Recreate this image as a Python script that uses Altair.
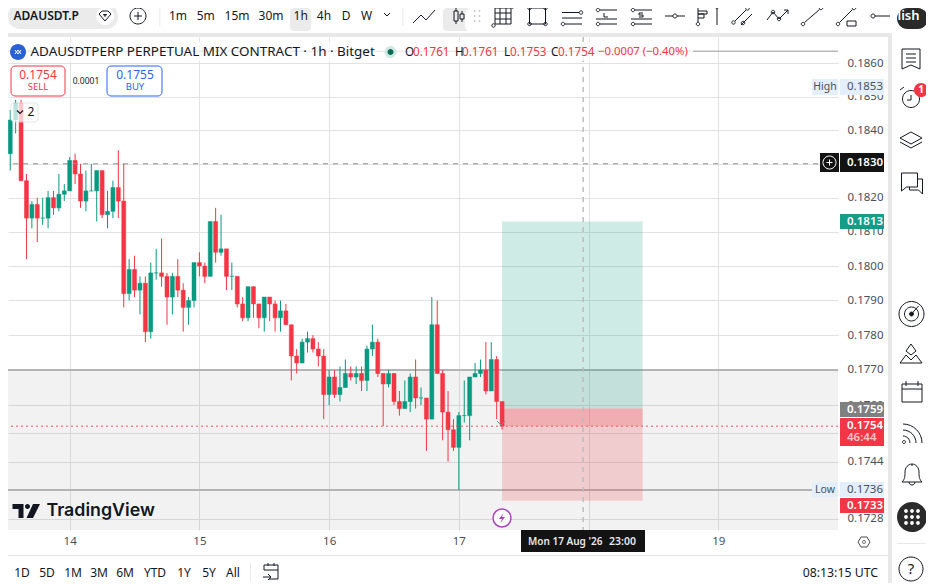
import altair as alt
import pandas as pd

# ---- candle values, hourly, in units of 0.0001 (bar index 0 = 14 Aug 00:00) ----
FIRST_BAR = -12
OPEN_T = [1831,1833,1843,1848,1825,1814,1818,1814,1814,1820,1817,1821,
 1822,1831,1827,1819,1822,1822,1828,1815,1816,1823,1819,1792,1799,1793,1795,1781,1798,1798,1797,1791,1797,1793,1788,1790,
 1801,1800,1797,1813,1804,1805,1797,1797,1789,1785,1794,1789,1785,1791,1789,1785,1787,1783,1774,1772,1778,1779,1776,1774,
 1763,1768,1763,1765,1769,1768,1769,1767,1776,1778,1769,1766,1769,1761,1759,1761,1768,1762,1762,1756,1783,1769,1758,1753,
 1748,1757,1757,1768,1769,1770,1764,1773,1761]
HIGH_T = [1837,1846,1849,1849,1827,1819,1820,1820,1822,1822,1827,1824,
 1832,1833,1830,1828,1830,1828,1828,1822,1825,1834,1830,1802,1803,1797,1797,1801,1805,1808,1798,1798,1802,1795,1791,1801,
 1804,1801,1813,1817,1815,1805,1801,1797,1791,1794,1794,1789,1791,1791,1790,1790,1789,1783,1776,1779,1781,1780,1778,1776,
 1770,1770,1771,1773,1771,1771,1771,1777,1783,1779,1769,1770,1769,1764,1767,1769,1773,1765,1762,1791,1790,1770,1764,1756,
 1758,1767,1768,1772,1773,1778,1778,1774,1761]
LOW_T = [1828,1828,1839,1825,1802,1811,1807,1812,1811,1815,1816,1819,
 1822,1824,1817,1816,1822,1813,1814,1811,1814,1814,1788,1790,1791,1786,1778,1779,1796,1794,1783,1786,1791,1781,1783,1788,
 1797,1795,1797,1801,1803,1793,1793,1788,1784,1784,1785,1782,1781,1784,1781,1781,1783,1767,1769,1772,1775,1775,1771,1756,
 1760,1762,1761,1765,1767,1766,1764,1764,1774,1768,1754,1765,1760,1757,1759,1758,1759,1760,1747,1756,1769,1750,1744,1747,
 1736,1755,1750,1768,1768,1763,1764,1756,1753]
CLOSE_T = [1833,1843,1848,1825,1814,1818,1814,1814,1820,1817,1821,1822,
 1831,1827,1819,1822,1822,1828,1815,1816,1823,1819,1792,1799,1793,1795,1781,1798,1798,1797,1791,1797,1793,1788,1790,1801,
 1800,1797,1813,1804,1805,1797,1797,1789,1785,1794,1789,1785,1791,1789,1785,1787,1783,1774,1772,1778,1779,1776,1774,1763,
 1768,1763,1765,1769,1768,1769,1767,1776,1778,1769,1766,1769,1761,1759,1761,1768,1762,1762,1756,1783,1769,1758,1753,1748,
 1757,1757,1768,1769,1770,1764,1773,1761,1754]

PRICE_TICKS = [.1860,.1850,.1840,.1830,.1820,.1810,.1800,.1790,.1780,.1770,.1760,.1752,.1744,.1736,.1728]
DAY_TICKS = [14,15,16,17,18,19]
STOP, ENTRY, TARGET, LAST = .1733, .1759, .1813, .1754
RANGE_HIGH, RANGE_LOW, UPPER_LEVEL, CURSOR_PRICE = .1770, .1736, .18636, .1830
POS_START, POS_END, CURSOR_BAR = 80, 106, 95
BAND_BOTTOM = .17248

TIMEFRAMES = ["1m","5m","15m","30m","1h","4h","D","W"]
TIMEFRAME_X = [178,205.7,237,271,300.7,324,346,366.7]
RANGES = ["1D","5D","1M","3M","6M","YTD","1Y","5Y","All"]
RANGE_X = [22,47,73,99,125,155,184,209,233]

RED, GREEN, BLUE, INK, AXIS = "#f23645", "#089981", "#2962ff", "#131722", "#4c4f58"
FONT, AXFONT = "Noto Sans", "Noto Sans"
GUT = "#e8e8e8"

n = len(OPEN_T)
bars = pd.DataFrame({
    "i": list(range(FIRST_BAR, FIRST_BAR + n)),
    "o": [v / 10000 for v in OPEN_T], "h": [v / 10000 for v in HIGH_T],
    "l": [v / 10000 for v in LOW_T], "c": [v / 10000 for v in CLOSE_T],
})
bars["dir"] = ["up" if c >= o else "down" for o, c in zip(bars.o, bars.c)]

X_SCALE = alt.Scale(domain=[-11.415, 142.15], nice=False, zero=False, padding=0)
Y_SCALE = alt.Scale(type="log", domain=[.17248, .18679], nice=False, padding=0)
DIR_SCALE = alt.Scale(domain=["up", "down"], range=[GREEN, RED])
X_AXIS = alt.Axis(title=None,
    values=[(d - 14) * 24 for d in DAY_TICKS],
    labelExpr="datum.value === 96 ? '' : datum.value / 24 + 14", grid=True,
    gridColor="#e2e2e2", gridWidth=1, ticks=False, domain=False, labelColor=AXIS, labelFont=AXFONT,
    labelFontSize=11.5, labelPadding=5, labelFlush=False, labelOverlap=False)
Y_AXIS = alt.Axis(title=None,
    orient="right", values=PRICE_TICKS,
    labelExpr="abs(datum.value - 0.1752) < 0.00001 ? '' : format(datum.value, '.4f')",
    grid=True, gridColor="#e2e2e2", gridWidth=1,
    ticks=False, domain=False, labelColor=AXIS, labelFont=AXFONT, labelFontSize=11.5, labelPadding=9,
    labelOverlap=False, labelFlush=False)
BLANK = pd.DataFrame({"_": [0]})
L = []

def X(x): return alt.value(x - 8)
def Y(y): return alt.value(y - 37)

def box(x0, y0, x1, y1, fill="transparent", stroke=None, r=0, op=1, sw=1):
    kw = dict(fill=fill, opacity=op, cornerRadius=r)
    if stroke: kw.update(stroke=stroke, strokeWidth=sw)
    L.append(alt.Chart(BLANK).mark_rect(**kw).encode(x=X(x0), x2=X(x1), y=Y(y0), y2=Y(y1)))

def txt(s, x, y, color=INK, size=12, weight=400, align="left", font=FONT, dx=0):
    L.append(alt.Chart(BLANK).mark_text(text=s, color=color, fontSize=size, fontWeight=weight, align=align,
             baseline="middle", font=font).encode(x=X(x), y=Y(y)))

def circ(cx, cy, r):
    return f"M{cx+r} {cy}A{r} {r} 0 1 0 {cx-r} {cy}A{r} {r} 0 1 0 {cx+r} {cy}Z"

def icon(path, x, y, stroke=INK, fill="transparent", sw=1):
    L.append(alt.Chart(BLANK).mark_point(shape=path, size=4, opacity=1, filled=True, fill=fill,
             stroke=stroke, strokeWidth=sw).encode(x=X(x), y=Y(y)))

def price_rule(p, **mk):
    L.append(alt.Chart(pd.DataFrame({"v": [p]})).mark_rule(**mk).encode(
        y=alt.Y("v:Q", scale=Y_SCALE, axis=Y_AXIS)))

def price_rect(p0, p1, b0, b1, color, op):
    L.append(alt.Chart(pd.DataFrame({"a": [b0], "b": [b1], "v": [p0], "w": [p1]})).mark_rect(color=color, opacity=op).encode(
        x=alt.X("a:Q", scale=X_SCALE, axis=X_AXIS), x2="b:Q",
        y=alt.Y("v:Q", scale=Y_SCALE, axis=Y_AXIS), y2="w:Q"))

# range band, levels
price_rect(RANGE_HIGH, BAND_BOTTOM, -11.415, 142.15, "#000000", .05)
price_rule(UPPER_LEVEL, color="#b9b9b9", strokeWidth=1.5)
price_rule(RANGE_HIGH, color="#b4b4b4", strokeWidth=2)
price_rule(RANGE_LOW, color="#b4b4b4", strokeWidth=2)

# long position
price_rect(TARGET, ENTRY, POS_START, POS_END, GREEN, .2)
price_rect(ENTRY, STOP, POS_START, POS_END, RED, .2)
price_rect(ENTRY, LAST, POS_START, POS_END, RED, .2)

# candles
base = alt.Chart(bars)
L.append(base.mark_rule(strokeWidth=1).encode(
    x=alt.X("i:Q", scale=X_SCALE, axis=X_AXIS),
    y=alt.Y("l:Q", scale=Y_SCALE, axis=Y_AXIS), y2="h:Q",
    color=alt.Color("dir:N", scale=DIR_SCALE, legend=None)))
L.append(base.mark_bar(size=4, strokeWidth=.5).encode(
    x=alt.X("i:Q", scale=X_SCALE, axis=X_AXIS),
    y=alt.Y("o:Q", scale=Y_SCALE, axis=Y_AXIS), y2="c:Q",
    color=alt.Color("dir:N", scale=DIR_SCALE, legend=None),
    stroke=alt.Stroke("dir:N", scale=DIR_SCALE, legend=None)))

# last price + crosshair
price_rule(LAST, color="#f4525f", strokeWidth=1, strokeDash=[2, 3])
price_rule(CURSOR_PRICE, color="#8f8f8f", strokeWidth=1, strokeDash=[5, 5])
L.append(alt.Chart(pd.DataFrame({"i": [CURSOR_BAR]})).mark_rule(color="#bdbdbd", strokeWidth=1.5, strokeDash=[5, 5]).encode(
    x=alt.X("i:Q", scale=X_SCALE, axis=X_AXIS)))
icon("M-4 -3L0 1L4 -3", 501, 424, stroke="#8a8a8a", sw=1)

# ---- chrome: gutters ----
box(8, 33, 888, 37, fill=GUT)
box(888, 33, 892, 585, fill=GUT)
box(8, 555, 888, 556, fill="#e4e4e4")

# header strip
box(8, 4, 118, 29, fill="#ebebeb", r=12)
txt("ADAUSDT.P", 13.5, 16, size=12, weight=600)
icon(circ(0, 0, 9), 105, 16, stroke=None, fill="white")
icon("M-6 -2L-3 -5H3L6 -2L0 5ZM-1.5 -1.5H1.5L0 0.5Z", 105, 16, sw=1)
icon(circ(0, 0, 8) + "M-4 0H4M0 -4V4", 138, 16)
box(159.5, 7, 160.2, 26, fill="#e0e0e0")
box(290, 8, 311, 31, fill="#ebebeb", r=4)
for lab, x in zip(TIMEFRAMES, TIMEFRAME_X):
    txt(lab, x, 16, size=12, align="center")
icon("M-3 -2L0 1L3 -2", 387, 15)
box(402.5, 7, 403.2, 26, fill="#e0e0e0")
icon("M-11 7L-3 -1L2 4L11 -6", 424, 16)
box(443, 8, 470, 31, fill="#ebebeb", r=4)
icon("M-4 -5H0V5H-4ZM-2 -8V-5M-2 5V8M2 -2H6V3H2ZM4 -5V-2M4 3V6", 458, 16)

# floating drawing toolbar
box(465, 8, 897, 33, fill="white", r=8)
box(897, 8, 928, 29, fill="#2a2a2a", r=12)
txt("lish", 897.5, 15.5, color="white", size=13, weight=600)
icon(circ(-2.5,-5,.6)+circ(2.5,-5,.6)+circ(-2.5,0,.6)+circ(2.5,0,.6)+circ(-2.5,5,.6)+circ(2.5,5,.6), 477, 16, stroke="#c4c4c4", fill="#c4c4c4")
icon("M-8 -8H8V8H-8ZM-3 -8V8M3 -8V8M-8 -3H8M-8 3H8" + circ(9.5,-9.5,1.7) + circ(-9.5,9.5,1.7), 503, 16)
icon("M-8 -8H8V8H-8Z" + circ(-8,-8,1.7) + circ(8,-8,1.7) + circ(-8,8,1.7) + circ(8,8,1.7), 537.5, 16)
icon("M-10 -9H10M-10 -3.5H7" + circ(9,-3.5,1.7) + "M-10 2H10M-7 8H10" + circ(-9,8,1.7), 572, 16)
icon(circ(-8,-6,1.7) + "M-6 -6H11M-2 -3V1H2M-10 3H11" + circ(-8,8,1.7) + "M-6 8H11", 606, 16)
icon(circ(-8,-6,1.7) + "M-6 -6H11M2 -3H-2V-1H2V1H-2M-10 3H11" + circ(-8,8,1.7) + "M-6 8H11", 641, 16)
icon("M-10 0H-2M2 0H10" + circ(0,0,2), 675, 16)
icon("M-4 -9V6" + circ(-4,8,1.7) + "M-4 -5H5V-2H-4M-4 -2H2V2H-4", 702, 16)
icon(circ(0,-9,1.7) + "M0 -7V9", 717, 16)
icon("M-8 5L3 -6" + circ(4.5,-7.5,1.7) + circ(-9.5,6.5,1.7) + "M-2 9L9 -2" + circ(0,7,1.7), 743, 16)
icon("M-11 4L-5 -4L1 3L10 -6M6 -6H10V-2" + circ(-5,-4,1.7) + circ(1,3,1.7), 778, 16)
icon(circ(-9,8,1.7) + "M-7.5 6.5L7.5 -6.5" + circ(9,-8,1.7), 812, 16)
icon(circ(-9,8,1.7) + "M-7.5 6.5L5.5 -6.5" + circ(7,-8,1.7) + "M0 5H9V10H0Z", 847, 16)
icon(circ(-7,0,2) + "M-5 0H10", 880, 16)

# legend line
box(8, 42, 693, 61, fill="white", op=.75, r=3)
icon(circ(0, 0, 8), 18, 52, stroke=None, fill="#2a62d6")
icon("M-3 -2L0 2L3 -2M-3 2L0 -2L3 2", 18, 52, stroke="white")
txt("ADAUSDTPERP PERPETUAL MIX CONTRACT · 1h · Bitget", 30.5, 52, size=13.45)
icon(circ(0, 0, 6), 390.5, 52, stroke=None, fill="#cfe9e3")
icon(circ(0, 0, 3), 390.5, 52, stroke=None, fill="#0b6b58")
for lab, x in zip(["O", "H", "L", "C"], [405, 455, 504, 551]):
    txt(lab, x, 52, size=11.7)
for lab, x in zip(["0.1761", "0.1761", "0.1753", "0.1754"], [413, 462, 510, 558]):
    txt(lab, x, 52, color=RED, size=11.7)
txt("−0.0007 (−0.40%)", 598, 52, color=RED, size=11.3)

# order buttons
box(11, 66, 65, 96, fill="white", stroke=RED, r=4)
txt("0.1754", 38, 75, color=RED, size=12, align="center")
txt("SELL", 38, 86.5, color=RED, size=9.5, align="center")
txt("0.0001", 86, 81, size=8.5, align="center")
box(107, 66, 162, 96, fill="white", stroke=BLUE, r=4)
txt("0.1755", 135, 75, color=BLUE, size=12, align="center")
txt("BUY", 135, 86.5, color=BLUE, size=9.5, align="center")
box(11, 103, 38, 122, fill="white", stroke="#dedede", r=3, op=.72)
icon("M-3 -1.5L0 1.5L3 -1.5", 20, 112, sw=1.2)
txt("2", 31, 112, size=12, align="center")

# price-scale tags
box(820, 153, 839, 172, fill="#131313")
icon(circ(0, 0, 6.5) + "M-3 0H3M0 -3V3", 829.5, 162.5, stroke="white")
box(840, 153, 884, 172, fill="#131313")
txt("0.1830", 847, 162.5, color="white", size=11.5, weight=600, font=AXFONT)
box(840, 214, 884, 229, fill=GREEN, op=.95)
txt("0.1813", 847, 222, color="white", size=11.5, weight=600, font=AXFONT)
box(812, 79, 838, 95, fill="#e3effd")
txt("High", 825, 87, color=AXIS, size=10.5, align="center")
box(840, 79, 884, 95, fill="#e3effd")
txt("0.1853", 847, 87, color=AXIS, size=11.5, font=AXFONT)
box(840, 402, 884, 417, fill="#808080")
txt("0.1759", 847, 409.5, color="white", size=11.5, weight=600, font=AXFONT)
box(840, 418, 884, 446, fill=RED)
txt("0.1754", 847, 426, color="white", size=11.5, weight=600, font=AXFONT)
txt("46:44", 847, 438, color="#ffc4c9", size=11.5, weight=600, font=AXFONT)
box(812, 482, 838, 497, fill="#e3effd")
txt("Low", 825, 490, color=AXIS, size=10.5, align="center")
box(840, 482, 884, 497, fill="#e3effd")
txt("0.1736", 847, 490, color=AXIS, size=11.5, font=AXFONT)
box(840, 498, 884, 513, fill=RED)
txt("0.1733", 847, 505.5, color="white", size=11.5, weight=600, font=AXFONT)
icon("M-6 0L-3 -5H3L6 0L3 5H-3Z" + circ(0, 0, 1.5), 864, 542, stroke="#4a4a4a")

# crosshair time tag
box(521, 530, 645, 552, fill="#131313")
txt("Mon 17 Aug '26", 528, 541.5, color="#e8e8e8", size=10, weight=600, font=AXFONT)
txt("23:00", 609, 541.5, color="#e8e8e8", size=10.5, weight=600, font=AXFONT)

# logo and events
icon("M-14 -7H-3V7H-8V-2H-14Z" + circ(1, -4.5, 2.5) + "M6.5 -7H13.5L6.5 7H0Z", 26.5, 511, stroke=None, fill="#131722")
txt("TradingView", 46.5, 511, size=17.8, weight=600, font="Inter")
icon(circ(0, 0, 9), 502, 518, stroke="#ab47bc", fill="white", sw=1.5)
icon("M1.5 -5L-3 1H0L-1.5 5L3 -1H0Z", 502, 518, stroke=None, fill="#ab47bc")

# bottom bar
for lab, x in zip(RANGES, RANGE_X):
    txt(lab, x, 573, size=12, align="center")
box(250, 563, 250.7, 582, fill="#e0e0e0")
icon("M-7 -2V-7H7V7H-2M-7 -2H7M-3 -9V-6M3 -9V-6M-8 5H0M-3 2L0 5L-3 8", 271, 572)
txt("08:13:15 UTC", 878, 573, size=12.3, align="right")

# right tool panel
icon("M-9 -10H9V10L0 6L-9 10ZM-5 -5H5M-5 -1H5M-5 3H5", 911, 59)
icon(circ(0, 0, 8.5) + "M0 -4V1H-4M-11 -9L-7 -12", 911, 99)
icon(circ(0, 0, 7), 921, 90, stroke=None, fill=RED)
txt("1", 921, 90, color="white", size=10, weight=700, align="center")
icon("M0 -8L11 -2L0 4L-11 -2ZM-11 2L0 8L11 2", 911, 140)
icon("M-10 -10H6V4H-5L-10 8ZM6 -4H11V11L7 7H-2V4", 911.5, 183)
icon(circ(0,0,12.5) + circ(0,0,7) + "M0 0L7 -8", 911.5, 314)
icon(circ(0,0,2), 911.5, 314, fill=INK)
icon("M-11 10H11L5 2L0 7L-5 2ZM-5 -2L0 -9L5 -2L0 2Z", 911, 353)
icon("M-10 -8H10V10H-10ZM-10 -3H10M-6 -11V-6M6 -11V-6", 912, 392)
icon(circ(-8, 9, 1.5) + "M-9 3A7 7 0 0 1 -2 10M-9 -3A13 13 0 0 1 4 10M-9 -9A19 19 0 0 1 10 10", 912, 433)
icon("M-10 7C-7 4 -7 1 -7 -3A7 8 0 0 1 7 -3C7 1 7 4 10 7ZM-3 7A3 3 0 0 0 3 7M0 -11V-9", 912, 475)
icon(circ(0, 0, 15), 912, 517, stroke=None, fill="#2a2a2a")
dots = "".join(circ(a, b, 1.9) for a in (-6, 0, 6) for b in (-6, 0, 6))
icon(dots, 912, 517, stroke=None, fill="white")
box(897, 543, 927, 543.8, fill="#e4e4e4")
icon(circ(0, 0, 12), 911, 569)
txt("?", 911, 569, size=15, align="center")

chart = alt.layer(*L).properties(
    width=830, height=493,
    padding={"left": 0, "top": 29, "right": 88, "bottom": 53},
    autosize=alt.AutoSizeParams(type="none"),
    background="white",
).configure_view(stroke=None)

chart.save("out.html", embed_options={"renderer": "svg", "actions": False})
